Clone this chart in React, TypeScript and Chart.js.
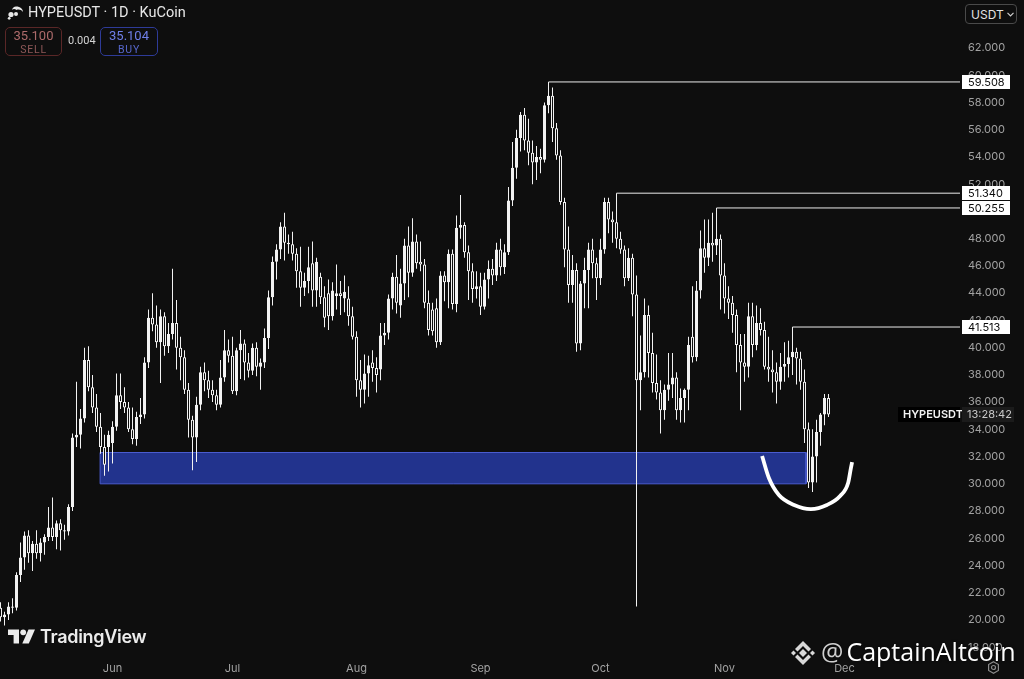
import React, { useEffect, useRef } from 'react';
import { Chart, registerables } from 'chart.js';

Chart.register(...registerables);

const BG = '#0e0e0e';
const CANDLE = '#f2f2f2';

// daily candles, first one = 4 May (day index counted from 1 Jun = 0)
const FIRST_DAY = -28;

const opens = [
  // May
  20.9, 20.2, 20.4, 21.0, 20.9, 23.3, 24.6, 26.2, 24.9, 25.6, 24.9, 25.7, 26.1, 26.8, 26.1, 27.1, 26.6, 26.5, 28.3, 33.4, 33.6, 34.8, 39.1, 37.1, 35.6, 34.2, 32.7, 32.7,
  // Jun
  33.0, 34.2, 36.5, 36.0, 35.6, 34.0, 33.3, 34.9, 35.1, 38.9, 42.2, 41.7, 40.4, 42.3, 40.1, 41.0, 41.8, 40.0, 39.3, 36.9, 34.7, 33.4, 35.8, 38.2, 37.6, 36.9, 36.5, 35.8, 37.8, 39.8,
  // Jul
  39.4, 36.8, 39.8, 40.3, 38.9, 38.3, 40.0, 38.6, 38.9, 40.7, 43.7, 46.3, 47.2, 48.9, 47.7, 47.6, 46.9, 45.6, 44.4, 44.9, 46.2, 44.2, 45.2, 43.7, 44.0, 42.3, 43.8, 44.0, 43.6, 43.6, 42.3,
  // Aug
  40.8, 37.6, 36.9, 38.1, 38.9, 38.5, 38.4, 40.9, 41.1, 43.6, 45.2, 43.1, 44.7, 47.5, 45.5, 47.8, 46.3, 46.1, 43.3, 42.8, 42.9, 40.4, 45.3, 44.8, 46.9, 43.2, 48.8, 49.0, 47.0, 45.6, 44.3,
  // Sep
  44.5, 43.0, 45.0, 45.8, 45.3, 47.2, 45.9, 47.0, 50.8, 53.2, 55.4, 57.1, 55.2, 54.3, 53.6, 54.0, 53.8, 57.8, 58.5, 56.1, 54.1, 50.7, 47.2, 44.6, 45.7, 40.3, 44.7, 45.7, 47.2, 46.2,
  // Oct
  45.1, 47.2, 50.7, 49.4, 49.2, 48.0, 47.2, 45.1, 46.6, 43.9, 37.6, 38.2, 42.4, 39.6, 37.4, 36.7, 35.4, 36.9, 37.3, 37.8, 35.4, 36.3, 36.9, 40.8, 39.3, 44.2, 47.3, 46.6, 47.7, 47.5, 48.0,
  // Nov
  45.3, 43.6, 43.3, 42.4, 40.2, 38.9, 38.6, 42.3, 40.2, 41.8, 41.3, 38.6, 38.4, 38.2, 37.5, 38.6, 38.8, 39.3, 39.7, 39.2, 37.5, 34.0, 30.1, 32.0, 33.8, 35.1, 36.3,
];

const highs = [
  21.3, 20.6, 21.3, 21.6, 23.5, 25.7, 26.5, 26.6, 25.8, 26.6, 26.0, 26.3, 28.3, 29.0, 27.3, 27.4, 27.0, 28.5, 33.7, 37.5, 35.5, 40.0, 40.1, 38.0, 36.6, 35.2, 33.6, 33.9,
  34.6, 38.1, 38.1, 37.1, 36.0, 35.6, 35.3, 36.3, 39.3, 42.8, 44.0, 43.1, 42.8, 42.6, 41.8, 45.8, 43.5, 40.8, 39.8, 37.4, 35.0, 36.4, 38.6, 38.9, 38.3, 37.6, 36.9, 39.1, 41.3, 40.6,
  40.8, 40.0, 41.3, 40.6, 39.6, 40.3, 40.4, 39.2, 41.4, 44.2, 46.7, 47.6, 49.2, 49.9, 48.3, 48.5, 47.3, 47.4, 45.5, 47.4, 47.8, 46.6, 45.5, 44.5, 45.0, 44.8, 46.1, 44.9, 45.3, 44.5, 43.0,
  41.2, 39.1, 39.5, 39.4, 39.8, 39.3, 41.8, 41.8, 43.9, 45.5, 46.8, 45.8, 48.0, 48.9, 49.5, 48.3, 47.8, 46.5, 44.2, 43.3, 43.6, 45.6, 45.6, 47.2, 47.2, 49.7, 51.2, 49.2, 47.5, 46.2, 45.6,
  45.5, 45.5, 46.4, 46.5, 47.7, 48.0, 47.6, 51.8, 55.1, 56.0, 57.3, 57.6, 56.8, 55.2, 54.8, 54.6, 58.0, 59.508, 59.1, 56.5, 54.5, 51.0, 48.9, 46.8, 46.2, 44.9, 46.6, 47.7, 48.0, 46.6,
  48.0, 51.0, 51.0, 50.0, 51.34, 48.5, 47.5, 47.3, 46.9, 45.3, 40.9, 43.6, 43.1, 41.1, 39.5, 37.6, 37.3, 39.6, 39.6, 38.2, 37.0, 37.0, 40.8, 44.5, 44.9, 48.6, 49.4, 49.4, 49.9, 50.255, 48.3,
  46.2, 44.5, 43.8, 42.8, 41.0, 41.0, 43.3, 43.3, 43.1, 42.9, 41.9, 40.8, 39.8, 38.9, 39.6, 40.4, 40.5, 41.513, 40.0, 39.7, 38.4, 34.5, 34.0, 34.7, 35.2, 36.6, 36.6,
];

const lows = [
  19.9, 19.6, 20.0, 20.5, 20.7, 22.8, 23.7, 24.2, 23.6, 24.5, 24.3, 24.8, 25.8, 25.8, 25.2, 25.1, 25.9, 26.2, 28.0, 32.7, 32.6, 34.5, 36.8, 35.2, 33.8, 32.2, 30.6, 30.9,
  31.5, 33.9, 35.5, 35.2, 33.8, 32.9, 32.8, 34.4, 34.8, 38.5, 41.2, 40.0, 37.4, 39.4, 39.6, 40.6, 38.4, 37.6, 36.6, 33.4, 31.0, 31.6, 35.4, 36.8, 36.3, 36.0, 35.4, 35.6, 37.5, 38.9,
  36.6, 36.5, 37.7, 37.6, 37.8, 38.0, 37.9, 36.9, 38.5, 39.9, 43.1, 45.0, 46.5, 46.4, 46.9, 46.4, 44.4, 43.0, 43.8, 44.0, 43.0, 43.0, 43.2, 41.5, 41.3, 42.0, 42.8, 42.4, 42.6, 41.6, 40.6,
  36.4, 35.6, 35.9, 36.4, 37.5, 36.7, 37.6, 40.2, 40.6, 42.8, 42.5, 42.2, 43.5, 43.7, 45.2, 45.8, 45.6, 42.9, 40.9, 40.9, 40.0, 40.2, 43.4, 42.9, 42.8, 42.6, 48.0, 46.6, 43.5, 43.3, 43.6,
  42.4, 42.8, 43.6, 44.6, 44.9, 45.3, 45.4, 46.8, 50.4, 52.4, 54.4, 54.5, 53.4, 52.0, 52.3, 52.8, 53.6, 57.2, 55.1, 53.8, 50.5, 45.9, 43.3, 43.3, 39.7, 39.8, 42.9, 42.9, 45.1, 43.5,
  44.6, 46.9, 48.4, 47.7, 47.3, 46.9, 44.5, 44.9, 42.3, 21.0, 35.4, 37.8, 37.8, 36.7, 36.2, 33.7, 34.7, 36.1, 36.3, 34.7, 34.5, 34.5, 35.4, 38.9, 39.0, 43.6, 45.5, 46.0, 46.3, 46.8, 42.8,
  42.5, 42.1, 41.1, 38.2, 35.4, 37.5, 37.8, 39.3, 39.8, 40.9, 38.4, 37.5, 36.7, 35.9, 36.9, 37.5, 37.8, 38.0, 37.3, 36.9, 33.0, 29.7, 29.4, 30.1, 32.8, 34.3, 34.9,
];

const closes = [
  20.2, 20.4, 21.0, 20.9, 23.3, 24.6, 26.2, 24.9, 25.6, 24.9, 25.7, 26.1, 26.8, 26.1, 27.1, 26.6, 26.5, 28.3, 33.4, 33.6, 34.8, 39.1, 37.1, 35.6, 34.2, 32.7, 31.4, 33.6,
  34.2, 36.5, 36.0, 35.6, 34.0, 33.3, 34.9, 35.1, 38.9, 42.2, 41.7, 40.4, 42.3, 40.1, 41.0, 41.8, 40.0, 39.3, 36.9, 34.7, 33.4, 35.8, 38.2, 37.6, 36.9, 36.5, 35.8, 37.8, 39.8, 39.4,
  36.8, 39.8, 40.3, 38.9, 38.3, 40.0, 38.6, 38.9, 40.7, 43.7, 46.3, 47.2, 48.9, 47.7, 47.6, 46.9, 45.6, 44.4, 44.9, 45.9, 44.2, 46.3, 43.7, 42.2, 42.3, 44.2, 44.0, 43.8, 44.1, 42.3, 40.8,
  37.6, 36.9, 38.1, 38.7, 38.5, 38.0, 40.9, 41.1, 43.6, 45.2, 43.3, 44.7, 47.5, 45.5, 47.8, 46.2, 46.1, 43.3, 41.3, 41.2, 40.4, 45.3, 44.8, 46.9, 43.2, 48.8, 49.0, 47.0, 45.6, 44.3, 44.5,
  43.0, 45.0, 45.8, 45.3, 47.2, 45.9, 47.0, 50.8, 53.2, 55.4, 57.1, 55.2, 54.3, 53.6, 54.0, 53.8, 57.8, 58.5, 56.1, 54.1, 50.7, 47.2, 44.6, 45.7, 40.3, 44.7, 45.7, 47.2, 46.2, 45.1,
  47.2, 50.7, 49.4, 49.2, 48.0, 47.2, 45.1, 46.6, 43.9, 37.6, 38.2, 42.4, 39.6, 37.4, 36.7, 35.4, 36.9, 37.3, 37.8, 35.4, 36.3, 36.9, 40.2, 39.3, 44.2, 47.3, 46.6, 47.7, 47.5, 48.0, 45.3,
  43.6, 43.3, 42.4, 40.2, 38.9, 38.6, 42.3, 40.2, 41.8, 41.3, 38.6, 38.4, 38.2, 37.5, 38.6, 38.8, 39.3, 39.7, 39.2, 37.5, 34.0, 30.1, 32.0, 33.8, 35.1, 36.3, 35.1,
];

const monthTickDays = [0, 30, 61, 92, 122, 153, 183];
const monthTickLabels = ['Jun', 'Jul', 'Aug', 'Sep', 'Oct', 'Nov', 'Dec'];
const priceTicks = [18, 20, 22, 24, 26, 28, 30, 32, 34, 36, 38, 40, 42, 44, 46, 48, 50, 52, 54, 56, 58, 60, 62];

const levelValues = [59.508, 51.34, 50.255, 41.513];
const levelStartDays = [109, 126, 151, 170];

const zoneTop = 32.3;
const zoneBottom = 30.0;
const zoneStartDay = -3.1;
const zoneEndDay = 173.4;

const curveDays = [162.4, 164.1, 166.6, 170.4, 174.6, 178.6, 181.9, 183.9, 184.6, 184.9];
const curveValues = [32.04, 30.43, 29.18, 28.45, 28.15, 28.45, 29.11, 30.06, 31.16, 31.6];

const lastPrice = 35.1;
const lastTime = '13:28:42';

const X_MIN = -28.125;
const X_MAX = 211.875;
const Y_MIN = 17.433;
const Y_MAX = 65.524;

const overlayPlugin = {
  id: 'tvOverlay',
  afterDraw(chart: any) {
    const { ctx, chartArea } = chart;
    const y = chart.scales.y;
    ctx.save();
    ctx.textBaseline = 'middle';
    ctx.textAlign = 'left';
    levelValues.forEach((v) => {
      const py = Math.round(y.getPixelForValue(v));
      ctx.fillStyle = '#ffffff';
      ctx.fillRect(chartArea.right + 2, py - 7, 48, 14);
      ctx.fillStyle = '#0a0a0a';
      ctx.font = '11px Inter, sans-serif';
      ctx.fillText(v.toFixed(3), chartArea.right + 8, py + 0.5);
    });
    const py = Math.round(y.getPixelForValue(lastPrice)) + 1;
    ctx.fillStyle = '#000000';
    ctx.fillRect(chartArea.right - 62, py - 8, 62, 15);
    ctx.fillStyle = '#f2f2f2';
    ctx.font = '600 11px Inter, sans-serif';
    ctx.fillText('HYPEUSDT', chartArea.right - 57, py);
    ctx.fillStyle = '#1b1b1b';
    ctx.fillRect(chartArea.right + 2, py - 8, 52, 15);
    ctx.fillStyle = '#c9c9c9';
    ctx.font = '11px Inter, sans-serif';
    ctx.fillText(lastTime, chartArea.right + 7, py);
    ctx.restore();
  },
};

export default function App() {
  const canvasRef = useRef<HTMLCanvasElement>(null);

  useEffect(() => {
    const canvas = canvasRef.current;
    if (!canvas) return;
    Chart.defaults.font.family = 'Inter, "Noto Sans", sans-serif';

    const days = opens.map((_, i) => FIRST_DAY + i);
    const wickData = days.map((d, i) => ({ x: d, y: [lows[i], highs[i]] }));
    const bodyData = days.map((d, i) => ({ x: d, y: [opens[i], closes[i]] }));
    const bodyFill = days.map((_, i) => (closes[i] >= opens[i] ? CANDLE : BG));
    const zoneData = [
      { x: zoneStartDay, y: zoneTop },
      { x: zoneEndDay, y: zoneTop },
      { x: zoneEndDay, y: zoneBottom },
      { x: zoneStartDay, y: zoneBottom },
      { x: zoneStartDay, y: zoneTop },
    ];
    const levelSets = levelValues.map((v, i) => ({
      type: 'line' as const,
      data: [
        { x: levelStartDays[i], y: v },
        { x: X_MAX, y: v },
      ],
      borderColor: '#ececec',
      borderWidth: 1,
      pointRadius: 0,
      fill: false,
      order: 5,
    }));
    const curveData = curveDays.map((d, i) => ({ x: d, y: curveValues[i] }));

    const chart = new Chart(canvas, {
      type: 'bar',
      data: {
        datasets: [
          {
            type: 'line',
            data: zoneData,
            borderColor: '#4a5cd0',
            borderWidth: 1,
            backgroundColor: '#22338d',
            fill: 'shape',
            pointRadius: 0,
            tension: 0,
            order: 20,
          } as any,
          ...levelSets,
          {
            type: 'bar',
            data: wickData,
            backgroundColor: CANDLE,
            barThickness: 1,
            grouped: false,
            inflateAmount: 0,
            order: 4,
          } as any,
          {
            type: 'bar',
            data: bodyData,
            backgroundColor: bodyFill,
            borderColor: CANDLE,
            borderWidth: 1,
            borderSkipped: false,
            barThickness: 3,
            grouped: false,
            inflateAmount: 0,
            order: 3,
          } as any,
          {
            type: 'line',
            data: curveData,
            borderColor: '#ffffff',
            borderWidth: 3.8,
            pointRadius: 0,
            cubicInterpolationMode: 'monotone',
            fill: false,
            order: 1,
          } as any,
        ],
      },
      options: {
        responsive: false,
        animation: false,
        devicePixelRatio: 1,
        events: [],
        layout: { padding: 0 },
        plugins: { legend: { display: false }, tooltip: { enabled: false } },
        scales: {
          x: {
            type: 'linear',
            min: X_MIN,
            max: X_MAX,
            offset: false,
            grid: { display: false, drawTicks: false, offset: false },
            border: { display: false },
            afterBuildTicks: (s: any) => {
              s.ticks = monthTickDays.map((v) => ({ value: v }));
            },
            afterFit: (s: any) => {
              s.height = 24;
              s.paddingLeft = 0;
              s.paddingRight = 0;
            },
            ticks: {
              color: '#a2a2a2',
              font: { size: 11 },
              padding: 7,
              maxRotation: 0,
              autoSkip: false,
              callback: (v: any) => {
                const i = monthTickDays.indexOf(Number(v));
                return i >= 0 ? monthTickLabels[i] : '';
              },
            },
          },
          y: {
            type: 'linear',
            position: 'right',
            min: Y_MIN,
            max: Y_MAX,
            grid: { display: false, drawTicks: false },
            border: { display: false },
            afterBuildTicks: (s: any) => {
              s.ticks = priceTicks.map((v) => ({ value: v }));
            },
            afterFit: (s: any) => {
              s.width = 64;
              s.paddingTop = 0;
              s.paddingBottom = 0;
            },
            ticks: {
              color: '#a2a2a2',
              font: { size: 11 },
              padding: 8,
              callback: (v: any) => Number(v).toFixed(3),
            },
          },
        },
      } as any,
      plugins: [overlayPlugin],
    });
    return () => chart.destroy();
  }, []);

  return (
    <div
      style={{
        position: 'fixed',
        left: 0,
        top: 0,
        width: 1024,
        height: 679,
        background: BG,
        overflow: 'hidden',
        fontFamily: 'Inter, "Noto Sans", sans-serif',
      }}
    >
      <canvas ref={canvasRef} width={1024} height={679} style={{ position: 'absolute', left: 0, top: 0, width: 1024, height: 679 }} />

      {/* header */}
      <div style={{ position: 'absolute', left: 7, top: 4, display: 'flex', alignItems: 'center', pointerEvents: 'none' }}>
        <svg width="17" height="15" viewBox="0 0 17 15">
          <path d="M9 1.5 C13.5 1.5 16 4 16 7 C14 4.5 11.5 4 9.5 5 C8 3.8 6 3.8 5 5 C5.5 3 7 1.5 9 1.5 Z" fill="#e8e8e8" />
          <circle cx="4" cy="9.5" r="2.6" fill="#e8e8e8" />
          <circle cx="9" cy="9" r="2" fill="#e8e8e8" />
          <circle cx="2.2" cy="13.3" r="1.4" fill="#e8e8e8" />
        </svg>
        <span style={{ marginLeft: 4, color: '#e8e8e8', fontSize: 14.5, fontFamily: 'Roboto, sans-serif', whiteSpace: 'nowrap' }}>
          HYPEUSDT · 1D · KuCoin
        </span>
      </div>

      <div
        style={{
          position: 'absolute', left: 5, top: 27, width: 55, height: 27, border: '1px solid #5a2727', borderRadius: 5,
          textAlign: 'center', pointerEvents: 'none', fontFamily: 'Roboto, sans-serif',
        }}
      >
        <div style={{ color: '#ad6b6b', fontSize: 13, lineHeight: '14px', marginTop: 1 }}>35.100</div>
        <div style={{ color: '#8e5858', fontSize: 10.5, lineHeight: '11px', marginTop: 1, letterSpacing: 0.8 }}>SELL</div>
      </div>
      <div style={{ position: 'absolute', left: 68, top: 34, color: '#d4d4d4', fontSize: 11, fontFamily: 'Roboto, sans-serif', pointerEvents: 'none' }}>0.004</div>
      <div
        style={{
          position: 'absolute', left: 100, top: 27, width: 56, height: 27, border: '1px solid #2e3b98', borderRadius: 5,
          textAlign: 'center', pointerEvents: 'none', fontFamily: 'Roboto, sans-serif',
        }}
      >
        <div style={{ color: '#6f7fe8', fontSize: 13, lineHeight: '14px', marginTop: 1 }}>35.104</div>
        <div style={{ color: '#5767cc', fontSize: 10.5, lineHeight: '11px', marginTop: 1, letterSpacing: 0.8 }}>BUY</div>
      </div>

      {/* currency box */}
      <div
        style={{
          position: 'absolute', left: 965, top: 4, width: 52, height: 20, border: '1px solid #4a4a4a', borderRadius: 4,
          background: BG, boxSizing: 'border-box', pointerEvents: 'none',
        }}
      >
        <span style={{ position: 'absolute', left: 5, top: 2, color: '#e2e2e2', fontSize: 12 }}>USDT</span>
        <svg style={{ position: 'absolute', left: 41, top: 7 }} width="7" height="5" viewBox="0 0 7 5">
          <path d="M0.5 0.8 L3.5 3.8 L6.5 0.8" stroke="#cfcfcf" strokeWidth="1.2" fill="none" />
        </svg>
      </div>

      {/* TradingView logo */}
      <div style={{ position: 'absolute', left: 8, top: 626, display: 'flex', alignItems: 'center', pointerEvents: 'none' }}>
        <svg width="27" height="15" viewBox="0 0 27 15">
          <path d="M0 0.5 H11 V14.5 H5.6 V6 H0 Z" fill="#ececec" />
          <circle cx="15.2" cy="3.3" r="2.9" fill="#ececec" />
          <path d="M20.5 0.5 H27 L20.8 14.5 H14.3 Z" fill="#ececec" />
        </svg>
        <span style={{ marginLeft: 5, color: '#ececec', fontSize: 18, fontWeight: 600, letterSpacing: -0.3 }}>TradingView</span>
      </div>

      {/* watermark */}
      <svg style={{ position: 'absolute', left: 789, top: 639, pointerEvents: 'none' }} width="28" height="28" viewBox="0 0 28 28">
        <g fill="#d9d9d9">
          <polygon points="14,10 18,14 14,18 10,14" />
          <polygon points="4.5,11.5 7,14 4.5,16.5 2,14" />
          <polygon points="23.5,11.5 26,14 23.5,16.5 21,14" />
          <polygon points="14,2 22,10 19.5,12.5 14,7 8.5,12.5 6,10" />
          <polygon points="14,26 22,18 19.5,15.5 14,21 8.5,15.5 6,18" />
        </g>
      </svg>
      <div
        style={{
          position: 'absolute', left: 821, top: 637, fontFamily: '"Open Sans", "Noto Sans", sans-serif', fontSize: 25,
          lineHeight: '28px', whiteSpace: 'nowrap', textShadow: '0 0 3px rgba(0,0,0,0.7)', pointerEvents: 'none',
        }}
      >
        <span style={{ color: '#d0d0d0' }}>@</span>
        <span style={{ color: '#ffffff', marginLeft: 3 }}>CaptainAltcoin</span>
      </div>

      {/* settings gear */}
      <svg style={{ position: 'absolute', left: 987, top: 661, pointerEvents: 'none' }} width="13" height="13" viewBox="0 0 13 13">
        <polygon points="6.5,0.8 11.4,3.6 11.4,9.4 6.5,12.2 1.6,9.4 1.6,3.6" stroke="#8a8a8a" strokeWidth="1.2" fill="none" />
        <circle cx="6.5" cy="6.5" r="2" stroke="#8a8a8a" strokeWidth="1.2" fill="none" />
      </svg>
    </div>
  );
}
